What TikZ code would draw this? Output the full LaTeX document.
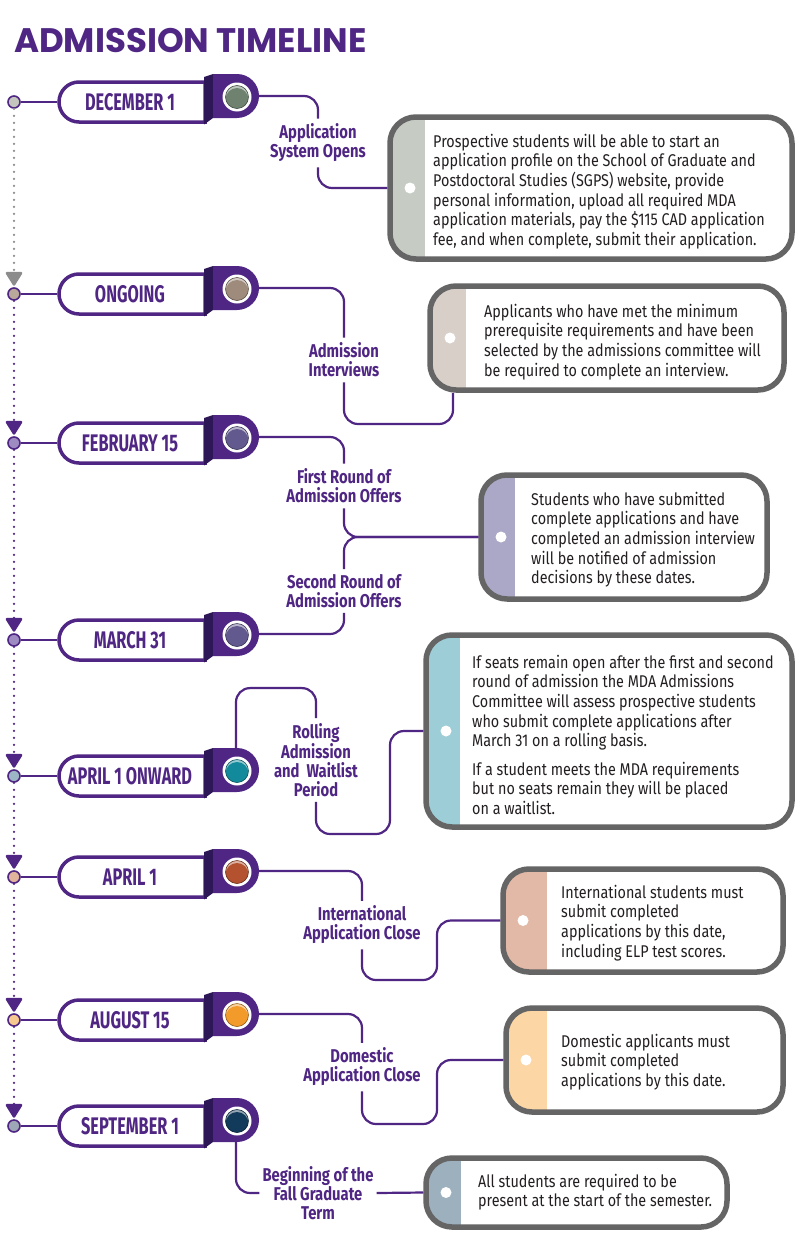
\documentclass[tikz,border=0pt]{standalone}
\usepackage{fontspec}
\usetikzlibrary{shapes.misc,arrows.meta,calc}
\setmainfont{Fira Sans}
\newfontfamily\titlefont{Poppins}
\newfontfamily\datefontfam{Fira Sans}[FakeStretch=0.68]
\newfontfamily\labfontfam{Fira Sans}[FakeStretch=0.8]
\newfontfamily\bodyfontfam{Fira Sans}[FakeStretch=0.845]
\definecolor{pur}{HTML}{4F2683}
\definecolor{dpur}{HTML}{2E1756}
\definecolor{bgray}{HTML}{656565}
\definecolor{txt}{HTML}{231F20}
\definecolor{tgray}{HTML}{8C8C8C}
% row colours
\definecolor{dA}{HTML}{C4C6BE}\definecolor{bA}{HTML}{6F8270}\definecolor{sA}{HTML}{C6CCC4}
\definecolor{dB}{HTML}{B9A99A}\definecolor{bB}{HTML}{9E8B7C}\definecolor{sB}{HTML}{D9CFC9}
\definecolor{dC}{HTML}{9E8BC2}\definecolor{bC}{HTML}{62598E}\definecolor{sC}{HTML}{AAA7C7}
\definecolor{dE}{HTML}{9DB6C6}\definecolor{bE}{HTML}{128A9B}\definecolor{sE}{HTML}{9DCDD7}
\definecolor{dF}{HTML}{E2B49B}\definecolor{bF}{HTML}{B4512E}\definecolor{sF}{HTML}{E2B8A6}
\definecolor{dG}{HTML}{F8C98F}\definecolor{bG}{HTML}{F29A2A}\definecolor{sG}{HTML}{FCD6A4}
\definecolor{dH}{HTML}{9EA7B5}\definecolor{bH}{HTML}{123A5A}\definecolor{sH}{HTML}{9DB0BE}
\newcommand\firstln{\rule{0pt}{14pt}}
\tikzset{
  pill/.style={rounded rectangle, rounded rectangle right arc=none, draw=pur,
    line width=3.5pt, fill=white, minimum width=146pt, minimum height=40pt, inner sep=0pt},
  datetxt/.style={font=\datefontfam\bfseries\fontsize{24}{24}\selectfont, text=pur, inner sep=0pt},
  head/.style={rounded rectangle, rounded rectangle left arc=none, fill=pur,
    minimum width=46pt, minimum height=44pt, inner sep=0pt},
  badge/.style={circle, fill=white, minimum size=29pt, inner sep=0pt},
  ldot/.style={circle, draw=pur, line width=1.6pt, minimum size=12pt, inner sep=0pt},
  tl/.style={line width=2.5pt, line cap=round, dash pattern=on 0pt off 7pt,
    -{Triangle[width=18pt,length=15pt,round=false]}, shorten >=1.5pt},
  conn/.style={draw=pur, line width=2.2pt, rounded corners=14pt},
  lab/.style={font=\labfontfam\bfseries\fontsize{18.5}{19}\selectfont, text=pur,
    align=center, inner xsep=3pt, inner ysep=5pt},
  body/.style={font=\bodyfontfam\fontsize{17}{19.6}\selectfont, text=txt,
    align=left, anchor=north west, inner sep=0pt},
  ibox/.style 2 args={draw=bgray, line width=5.5pt, rounded corners=26pt, fill=white,
    inner sep=0pt,
    path picture={\fill[#1, sharp corners] (path picture bounding box.south west) rectangle
      ([xshift=#2]path picture bounding box.north west);
      \fill[white] ([xshift=20pt]path picture bounding box.west) circle (5.5pt);}},
}
\newcommand\badgefill[2]{%
  \begin{scope}
    \clip (#1.center) circle (11.5pt);
    \fill[#2!45!white] (#1.center) circle (11.5pt);
    \fill[#2] ($(#1.center)+(0,2.5)$) circle (11.5pt);
  \end{scope}
  \draw[#2!60!black, line width=0.6pt] (#1.center) circle (11.5pt);}
% \daterow{n}{y}{text}{dotcol}{badgecol}
\newcommand\daterow[5]{%
  \node[ldot, fill=#4] (d#1) at (14,#2) {};
  \node[pill] (p#1) at (132,#2) {};
  \draw[pur, line width=1.8pt] (d#1) -- (p#1);
  \node[datetxt] (t#1) at (130,#2) {#3};
  \fill[dpur] (204,#2-25) -- (213,#2-28) -- (213,#2+16) -- (204,#2+22.5) -- cycle;
  \node[head] (h#1) at (236,#2-6) {};
  \node[badge] (b#1) at (237,#2-5) {};
  \badgefill{b#1}{#5}}
\begin{document}
\begin{tikzpicture}[x=1pt,y=-1pt]
\useasboundingbox (0,0) rectangle (800,1250);
\fill[white] (0,0) rectangle (800,1250);

\node[font=\titlefont\bfseries\fontsize{34}{34}\selectfont, text=pur, anchor=base west, inner sep=0pt]
  (title) at (14,52) {ADMISSION TIMELINE};

% date rows
\daterow{1}{102}{DECEMBER 1}{dA}{bA}
\daterow{2}{294}{ONGOING}{dB}{bB}
\daterow{3}{443}{FEBRUARY 15}{dC}{bC}
\daterow{4}{640}{MARCH 31}{dC}{bC}
\daterow{5}{776}{APRIL 1 ONWARD}{dE}{bE}
\daterow{6}{877}{APRIL 1}{dF}{bF}
\daterow{7}{1020}{AUGUST 15}{dG}{bG}
\daterow{8}{1126}{SEPTEMBER 1}{dH}{bH}

% timeline
\draw[tl, tgray] (d1) -- (d2);
\draw[tl, pur] (d2) -- (d3);
\draw[tl, pur] (d3) -- (d4);
\draw[tl, pur] (d4) -- (d5);
\draw[tl, pur] (d5) -- (d6);
\draw[tl, pur] (d6) -- (d7);
\draw[tl, pur] (d7) -- (d8);

% info boxes
\node[ibox={sA}{35pt}, minimum width=402pt, minimum height=142pt] (i1) at (591,188) {};
\node[ibox={sB}{36pt}, minimum width=354pt, minimum height=104pt] (i2) at (607,338) {};
\node[ibox={sC}{34pt}, minimum width=286pt, minimum height=124pt] (i3) at (624,537) {};
\node[ibox={sE}{34pt}, minimum width=366pt, minimum height=192pt] (i5) at (609,731) {};
\node[ibox={sF}{44pt}, minimum width=280pt, minimum height=103pt] (i6) at (643,920.5) {};
\node[ibox={sG}{41pt}, minimum width=277pt, minimum height=104pt] (i7) at (644.5,1060) {};
\node[ibox={sH}{35pt}, minimum width=301pt, minimum height=69pt] (i8) at (576.5,1192.5) {};

\node[body] (x1) at (433,133) {\firstln Prospective students will be able to start an\\
application profile on the School of Graduate and\\
Postdoctoral Studies (SGPS) website, provide\\
personal information, upload all required MDA\\
application materials, pay the \$115 CAD application\\
fee, and when complete, submit their application.};
\node[body] (x2) at (484,303) {\firstln Applicants who have met the minimum\\
prerequisite requirements and have been\\
selected by the admissions committee will\\
be required to complete an interview.};
\node[body] (x3) at (531,491) {\firstln Students who have submitted\\
complete applications and have\\
completed an admission interview\\
will be notified of admission\\
decisions by these dates.};
\node[body] (x5) at (472,654) {\firstln If seats remain open after the first and second\\
round of admission the MDA Admissions\\
Committee will assess prospective students\\
who submit complete applications after\\
March 31 on a rolling basis.\\[9pt]
If a student meets the MDA requirements\\
but no seats remain they will be placed\\
on a waitlist.};
\node[body] (x6) at (561,884) {\firstln International students must\\
submit completed\\
applications by this date,\\
including ELP test scores.};
\node[body] (x7) at (561,1033) {\firstln Domestic applicants must\\
submit completed\\
applications by this date.};
\node[body] (x8) at (478,1173) {\firstln All students are required to be\\
present at the start of the semester.};

% labels
\node[lab] (l1) at (318,143) {Application\\System Opens};
\node[lab] (l2) at (344,360) {Admission\\Interviews};
\node[lab] (l3a) at (344,486) {First Round of\\Admission Offers};
\node[lab] (l3b) at (344,591) {Second Round of\\Admission Offers};
\node[lab] (l5) at (316,760) {Rolling\\Admission\\and\ \ Waitlist\\Period};
\node[lab] (l6) at (362,925) {International\\Application Close};
\node[lab] (l7) at (362,1067) {Domestic\\Application Close};
\node[lab] (l8) at (318,1193) {Beginning of the\\Fall Graduate\\Term};

% connectors
\draw[conn] (h1.east) -| (l1.north);
\draw[conn] (l1.south) |- (i1.west);

\draw[conn] (h2.east) -| (l2.north);
\coordinate (k2) at (453,424);
\draw[conn] (l2.south) |- (k2) -- (k2 |- i2.south);

\draw[conn] (h3.east) -| (l3a.north);
\draw[conn] (l3a.south) |- (i3.west);
\draw[conn] (l3b.north) |- (i3.west);
\draw[conn] (l3b.south) |- (h4.east);

\draw[conn] (h5.north) |- ($(l5.north)+(0,-30)$) -- (l5.north);
\coordinate (k5) at (390,834);
\draw[conn] (l5.south) |- (k5) |- (i5.west);

\draw[conn] (h6.east) -| (l6.north);
\coordinate (k6) at (437,980);
\draw[conn] (l6.south) |- (k6) |- (i6.west);

\draw[conn] (h7.east) -| (l7.north);
\coordinate (k7) at (437,1124);
\draw[conn] (l7.south) |- (k7) |- (i7.west);

\draw[conn] (h8.south) |- (l8.west);
\draw[conn] (l8.east) -- (i8.west);
\end{tikzpicture}
\end{document}
